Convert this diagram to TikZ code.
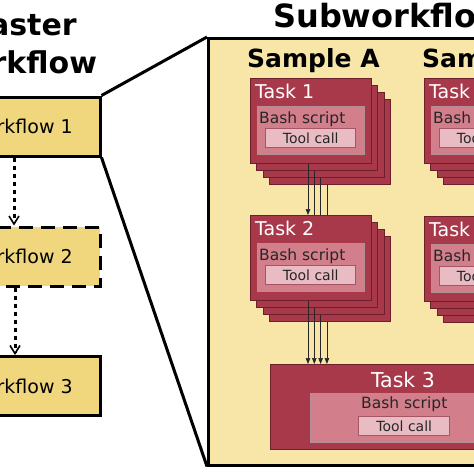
\documentclass[tikz,border=0pt]{standalone}
\usepackage{fontspec}
\setmainfont{DejaVu Sans}
\usetikzlibrary{arrows.meta,calc,positioning}

\definecolor{wfyellow}{HTML}{F0D67C}
\definecolor{subyellow}{HTML}{F7E6A8}
\definecolor{taskred}{HTML}{A8394B}
\definecolor{taskedge}{HTML}{6E1F2C}
\definecolor{bashpink}{HTML}{D27E8B}
\definecolor{toolpink}{HTML}{E9BCC4}
\definecolor{tooledge}{HTML}{A65564}

\tikzset{
  bigtitle/.style={inner sep=0pt, font=\fontsize{30}{36}\selectfont\bfseries},
  sampletitle/.style={inner sep=0pt, font=\fontsize{25}{30}\selectfont\bfseries},
  wfbox/.style={draw, line width=3pt, fill=wfyellow, minimum width=160pt,
    minimum height=59pt, inner sep=0pt, font=\fontsize{19}{22}\selectfont},
  subbox/.style={draw, line width=2.5pt, fill=subyellow, inner sep=0pt},
  zoomline/.style={line width=3pt},
  flowdot/.style={line width=3pt, dash pattern=on 4pt off 4pt,
    -{Straight Barb[length=8pt,width=10pt,line width=1.6pt]}},
  taskbox/.style={draw=taskedge, line width=0.9pt, fill=taskred, inner sep=0pt,
    minimum width=121pt, minimum height=85pt},
  tasklabel/.style={inner sep=0pt, text=white, font=\fontsize{19}{22}\selectfont},
  bashbox/.style={draw=taskedge!50, line width=0.5pt, fill=bashpink, inner sep=0pt,
    minimum width=107pt, minimum height=48pt},
  bashtext/.style={inner sep=0pt, text=black!85, font=\fontsize{15.5}{18}\selectfont},
  toolbox/.style={draw=tooledge, line width=0.6pt, fill=toolpink, inner sep=0pt,
    minimum width=90pt, minimum height=19pt, text=black!85,
    font=\fontsize{14}{16}\selectfont},
  flowline/.style={line width=0.6pt, draw=black!85},
  flow/.style={flowline, -{Triangle[length=6pt,width=4.5pt]}}
}

% one task: three copies behind, the front box, bash script, tool call
\newcommand{\taskstack}[4]{%
  \foreach \k in {3,2,1}
    \node[taskbox, anchor=north west] (#1-\k) at ({#2+6.3*\k},{#3+7*\k}) {};
  \node[taskbox, anchor=north west] (#1-0) at (#2,#3) {};
  \node[tasklabel, anchor=base west] (#1-title) at ($(#1-0.north west)+(5,20)$) {#4};
  \node[bashbox, anchor=north west] (#1-bash) at ($(#1-0.north west)+(7,28)$) {};
  \node[bashtext, anchor=base west] (#1-bashtxt) at ($(#1-bash.north west)+(2,17)$) {Bash script};
  \node[toolbox] (#1-tool) at ($(#1-bash.south)+(0,-16.5)$) {Tool call};
}

\begin{document}
\begin{tikzpicture}[x=1pt,y=-1pt]
  \useasboundingbox (0,0) rectangle (474,474);
  \clip (0,0) rectangle (474,474);

  % Master workflow
  \node[bigtitle, anchor=base] (mastertop) at (18,35) {Master};
  \node[bigtitle, anchor=base] (masterbot) at (18,73) {Workflow};

  \node[wfbox] (wf1) at (20,126.5) {Workflow 1};
  \node[wfbox, dash pattern=on 14pt off 8pt] (wf2) at (20,256.5) {Workflow 2};
  \node[wfbox] (wf3) at (20,386) {Workflow 3};

  \draw[flowdot] ([xshift=-6pt]wf1.south) -- ([xshift=-6pt]wf2.north);
  \draw[flowdot] ([xshift=-5pt]wf2.south) -- ([xshift=-5pt]wf3.north);

  % Subworkflow
  \node[subbox, anchor=north west, minimum width=360pt, minimum height=427pt] (sub) at (207,37) {};
  \node[bigtitle, font=\fontsize{32}{38}\selectfont\bfseries, anchor=base west] (subtitle)
    at (273,27) {Subworkflow};

  \draw[zoomline] (wf1.north east) -- (sub.north west);
  \draw[zoomline] (wf1.south east) -- (sub.south west);

  \node[sampletitle, anchor=base west] (samplea) at (247,67) {Sample A};
  \node[sampletitle, anchor=base west] (sampleb) at (422,67) {Sample B};

  % Task 1 and Task 2
  \taskstack{t1a}{250}{78}{Task 1}
  \taskstack{t1b}{424}{78}{Task 1}
  \taskstack{t2a}{250}{215}{Task 2}
  \taskstack{t2b}{424}{216}{Task 2}

  \foreach \s in {t1a,t1b} {
    \coordinate (\s-out0) at ([xshift=58pt]\s-0.south west);
    \draw[flow] (\s-out0) -- (\s-out0 |- t2a-0.north);
    \foreach \k in {1,2,3} {
      \coordinate (\s-out\k) at ([xshift=58pt]\s-\k.south west);
      \draw[flowline] (\s-out\k) -- (\s-out\k |- t2a-0.north);
    }
  }

  % Task 3
  \node[taskbox, anchor=north west, minimum width=268pt] (t3) at (270,364) {};

  \foreach \k in {0,...,3} {
    \coordinate (t2a-out\k) at ([xshift=58pt]t2a-\k.south west);
    \coordinate (t2b-out\k) at ([xshift=58pt]t2b-\k.south west);
    \draw[flow] (t2a-out\k) -- (t2a-out\k |- t3.north);
    \draw[flow] (t2b-out\k) -- (t2b-out\k |- t3.north);
  }

  \node[tasklabel, font=\fontsize{20.5}{24}\selectfont, anchor=base] (t3-title)
    at ($(t3.north west)+(133,23)$) {Task 3};
  \node[bashbox, anchor=north west, minimum width=188pt, minimum height=49pt] (t3-bash)
    at ($(t3.north west)+(40,29)$) {};
  \node[bashtext, anchor=base] (t3-bashtxt) at ($(t3-bash.north)+(0,15)$) {Bash script};
  \node[toolbox, minimum width=91pt] (t3-tool) at ($(t3-bash.south)+(0,-16.5)$) {Tool call};
\end{tikzpicture}
\end{document}
